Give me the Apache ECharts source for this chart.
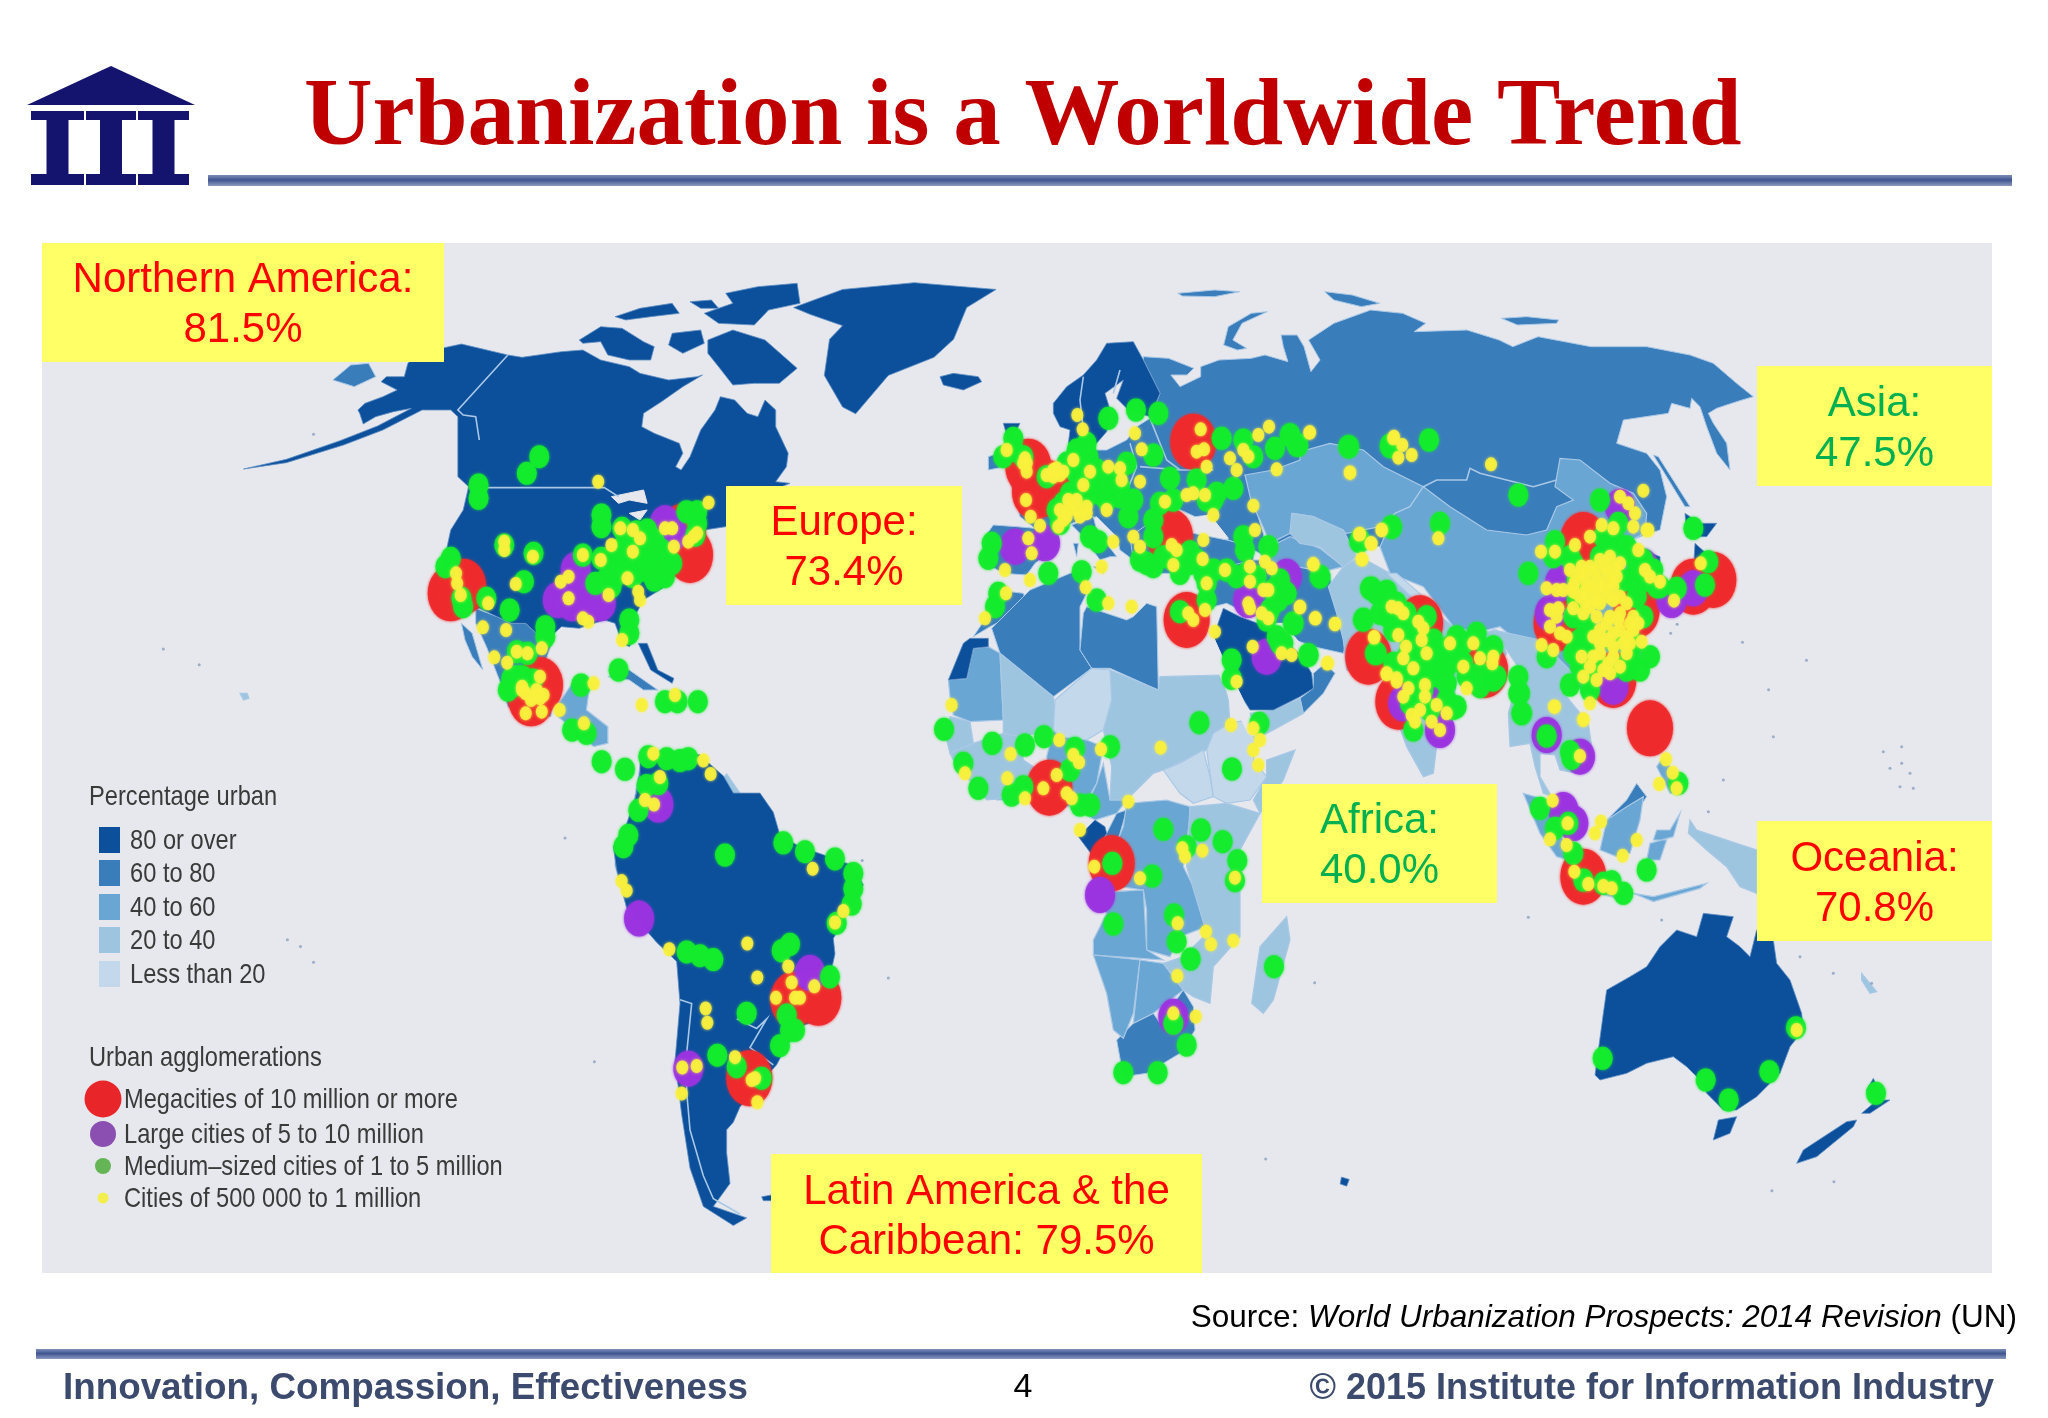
<!DOCTYPE html>
<html><head><meta charset="utf-8"><style>html,body{margin:0;background:#fff}#c{width:2048px;height:1418px}</style>
<script src="https://cdn.jsdelivr.net/npm/echarts@6/dist/echarts.min.js"></script></head>
<body><div id="c"></div>
<script>
// Map readings are kept per reference view: [originX, originY, scaleX, scaleY]
const V1=[0,0,1.531,2.211],V2=[1024,0,1.531,2.211],V3=[0,709,1.531,2.211],V4=[1024,709,1.531,2.211],
NA=[240,270,2.8,3],SA=[500,640,3,2.613],EU=[920,360,3,3],AF=[920,600,3,3],AS=[1280,280,3,3],OC=[1440,680,3,3],RU=[1040,260,2.178,3];
const at=(v,a)=>a.map(p=>[v[0]+p[0]/v[2],v[1]+p[1]/v[3]]);

const regionNames=['Northern America:','Europe:','Asia:','Africa:','Oceania:','Latin America & the'];
const urbanPct=[81.5,73.4,47.5,40.0,70.8,79.5];
const urbanLegend=['80 or over','60 to 80','40 to 60','20 to 40','Less than 20'];
const cityLegend=['Megacities of 10 million or more','Large cities of 5 to 10 million','Medium\u2013sized cities of 1 to 5 million','Cities of 500 000 to 1 million'];

const land80=[
 at(NA,[[330,420],[350,400],[400,380],[440,360],[395,335],[410,320],[460,320],[470,280],[500,250],[620,222],[750,255],[790,262],[900,245],[960,240],[1010,270],[1090,290],[1120,310],[1200,330],[1280,320],[1295,315],[1240,350],[1180,395],[1130,430],[1125,470],[1160,490],[1230,520],[1240,550],[1220,590],[1235,600],[1260,560],[1290,480],[1330,420],[1345,380],[1385,390],[1420,430],[1450,440],[1470,390],[1500,420],[1500,470],[1535,550],[1530,590],[1500,635],[1540,640],[1400,700],[1360,770],[1300,780],[1305,850],[1290,890],[1215,920],[1190,950],[1130,990],[1110,1030],[1100,1040],[1110,1100],[1090,1130],[1070,1120],[1050,1060],[1020,1050],[950,1075],[900,1070],[880,1090],[870,1130],[830,1090],[800,1060],[760,1060],[720,1040],[670,1015],[610,1040],[590,990],[570,880],[590,780],[625,720],[640,650],[610,620],[610,560],[610,440],[590,420],[540,420],[510,420],[400,480],[290,525],[130,578],[10,597],[130,568],[280,512],[385,468],[480,415],[430,425],[380,440],[345,462],[335,430]]),
 at(NA,[[950,210],[1010,170],[1070,175],[1130,215],[1160,230],[1150,270],[1090,270],[1030,255],[1010,215],[960,220]]),
 at(NA,[[1050,140],[1120,115],[1210,100],[1230,130],[1150,140],[1080,150]]),
 at(NA,[[1260,95],[1320,90],[1340,115],[1290,115]]),
 at(NA,[[1210,190],[1290,180],[1300,220],[1240,250],[1200,225]]),
 at(NA,[[1360,70],[1450,50],[1560,40],[1568,100],[1480,120],[1440,165],[1340,160],[1300,130],[1380,100]]),
 at(NA,[[1310,210],[1380,180],[1470,210],[1560,295],[1510,340],[1440,340],[1380,345],[1340,290],[1310,250]]),
 at(V1,[[1215,680],[1290,640],[1400,625],[1525,640],[1480,680],[1460,750],[1430,790],[1360,830],[1310,915],[1290,900],[1262,830],[1270,750],[1290,720],[1240,695]]),
 at(NA,[[1115,1120],[1140,1120],[1170,1200],[1215,1225],[1210,1240],[1150,1200]]),
 at(SA,[[420,320],[480,290],[600,300],[650,340],[670,355],[700,400],[780,400],[820,450],[840,510],[900,540],[1000,570],[1060,590],[1090,640],[1040,720],[1000,780],[1005,820],[990,880],[1010,930],[1000,980],[900,1010],[860,1060],[830,1110],[800,1140],[720,1220],[700,1260],[680,1280],[680,1340],[690,1420],[640,1480],[740,1510],[700,1530],[610,1480],[570,1380],[545,1240],[525,1100],[540,950],[530,840],[470,790],[380,700],[350,600],[340,540],[380,480],[400,430],[420,370]]),
 at(SA,[[785,1455],[815,1450],[815,1465],[790,1465]]),
 at(EU,[[60,50],[100,40],[175,50],[185,65],[130,90],[70,75]]),
 at(EU,[[250,190],[300,190],[280,230],[330,300],[330,320],[270,340],[260,300],[270,260]]),
 at(EU,[[400,130],[440,80],[490,45],[530,0],[560,-50],[640,-55],[670,0],[720,100],[690,170],[625,150],[590,115],[610,60],[555,100],[575,165],[560,215],[530,250],[470,260],[445,250],[450,210],[420,200],[400,160]]),
 at(EU,[[880,830],[910,745],[960,770],[1040,800],[1090,840],[1140,880],[1175,940],[1180,985],[1140,1010],[1060,1050],[990,1050],[965,1010],[920,920]]),
 at(AF,[[85,240],[130,130],[150,115],[205,115],[205,140],[160,145],[140,235]]),
 at(AF,[[475,710],[525,660],[555,680],[560,700],[520,770]]),
 at(AS,[[1215,700],[1260,730],[1310,730],[1280,770],[1220,770]]),
 at(AS,[[1245,790],[1290,830],[1260,900],[1180,970],[1150,960],[1240,870]]),
 at(AS,[[1090,810],[1140,830],[1140,920],[1100,930]]),
 at(OC,[[465,1185],[490,1000],[500,930],[570,890],[620,860],[660,800],[710,750],[770,770],[790,700],[880,710],[860,770],[900,800],[930,830],[950,750],[1000,780],[1010,850],[1050,900],[1085,1000],[1090,1050],[1050,1100],[1020,1180],[950,1250],[890,1290],[850,1290],[800,1240],[780,1200],[740,1160],[700,1130],[620,1150],[560,1180],[480,1200]]),
 at(OC,[[820,1380],[835,1320],[890,1310],[870,1360]]),
 at(OC,[[1300,1195],[1330,1260],[1350,1260],[1290,1300],[1265,1300],[1300,1270],[1280,1230]]),
 at(OC,[[1070,1450],[1090,1410],[1220,1325],[1250,1320],[1240,1340],[1130,1430]]),
 at(V4,[[486,1035],[498,1040],[494,1055],[484,1050]])
];
const land60=[
 at(EU,[[270,370],[340,350],[420,300],[455,280],[465,235],[490,235],[500,270],[560,270],[620,240],[650,200],[690,175],[720,100],[670,0]])
 .concat(at(RU,[[225,290],[280,295],[335,325],[320,345],[285,345],[305,380],[350,350],[350,320],[390,300],[460,295],[490,285],[540,305],[530,260],[525,225],[560,225],[575,260],[590,335],[610,300],[585,240],[640,190],[720,150],[790,160],[840,190],[815,215],[930,210],[1000,240],[1030,260],[1085,230],[1200,260]]))
 .concat(at(AS,[[1100,200],[1230,225],[1300,250],[1370,310],[1420,350],[1370,365],[1310,385],[1285,400],[1300,430],[1340,490],[1350,570],[1310,520],[1280,440],[1260,380],[1235,355],[1230,385],[1175,370],[1165,400],[1030,420],[1010,490],[1100,520],[1140,570],[1160,650],[1140,750],[1095,765],[1000,800],[600,800],[300,800],[0,800]]))
 .concat(at(EU,[[975,345],[1030,520],[1040,590],[1000,570],[925,540],[870,465],[825,470],[760,440],[720,470],[700,480],[650,540],[640,600],[600,570],[590,530],[530,470],[480,480],[410,510],[345,505],[300,470],[280,390]])),
 at(AS,[[1120,525],[1135,530],[1230,680],[1215,680]]),
 at(RU,[[400,255],[410,200],[460,160],[495,155],[440,190],[420,240],[450,265],[430,270]]),
 at(RU,[[620,95],[680,105],[740,130],[700,140],[640,120]]),
 at(RU,[[300,100],[380,90],[435,95],[380,110],[310,108]]),
 at(RU,[[1005,175],[1060,170],[1130,180],[1125,190],[1040,195]]),
 at(EU,[[190,610],[195,530],[220,495],[290,500],[345,505],[415,530],[400,570],[345,610],[320,645],[250,640],[215,620]]),
 at(EU,[[205,290],[260,270],[255,320],[205,330]]),
 at(EU,[[455,495],[520,470],[530,510],[590,590],[570,590],[540,600],[490,530]]),
 at(EU,[[520,620],[560,620],[550,640]]),
 at(EU,[[460,550],[475,550],[470,590]]),
 at(EU,[[630,530],[700,480],[820,520],[920,540],[1000,560],[1000,620],[880,650],[840,640],[680,640],[640,600]]),
 at(EU,[[840,640],[1000,600],[1080,600],[1180,620],[1230,640],[1240,720],[1280,840],[1270,880],[1180,860],[1100,830],[1040,780],[960,750],[920,730],[880,740],[850,720]]),
 at(EU,[[1180,940],[1215,910],[1245,940],[1210,1000],[1150,1060],[1140,1015],[1180,985]]),
 at(AF,[[200,50],[230,-30],[310,-20],[325,20],[210,80],[160,110]]),
 at(AF,[[215,85],[330,-30],[450,-80],[490,-90],[500,-20],[480,20],[480,150],[515,205],[400,290],[240,160]]),
 at(AF,[[490,40],[500,20],[620,60],[640,50],[680,10],[710,20],[715,270],[570,205],[515,205],[480,150]]),
 at(AF,[[560,700],[590,640],[620,630],[600,700],[580,760],[540,745]]),
 at(AF,[[590,1320],[640,1270],[700,1240],[720,1270],[790,1170],[820,1220],[825,1290],[780,1360],[680,1420],[610,1430]]),
 at(NA,[[660,1015],[720,1040],[760,1060],[800,1060],[830,1090],[870,1130],[850,1190],[880,1280],[870,1340],[810,1350],[750,1310],[730,1240],[690,1130],[660,1060]]),
 at(NA,[[620,1060],[650,1090],[680,1200],[650,1160],[630,1110]]),
 at(NA,[[1030,1220],[1090,1200],[1170,1260],[1130,1260],[1090,1230]]),
 at(NA,[[260,330],[310,285],[360,280],[380,320],[320,350]]),
 at(SA,[[345,590],[345,540],[430,500],[510,560],[470,620],[470,650],[500,680],[545,700],[545,780],[530,840],[470,790],[380,700]]),
 at(SA,[[420,330],[480,290],[520,340],[510,390],[560,390],[550,450],[515,480],[510,560],[430,500],[380,480],[400,430]]),
 at(SA,[[545,700],[600,685],[680,800],[720,830],[720,860],[660,880],[640,920],[580,900],[545,830]]),
 at(SA,[[715,420],[770,405],[760,460],[720,460]]),
 at(OC,[[500,420],[560,360],[590,310],[620,350],[600,380],[550,400],[510,430]])
];
const land40=[
 at(AS,[[-105,585],[-20,570],[60,540],[60,515],[150,490],[250,510],[310,560],[430,620],[390,680],[345,700],[300,740],[200,760],[100,710],[40,700],[30,760],[-30,790],[-60,720],[-85,670]]),
 at(AS,[[-30,800],[30,770],[120,805],[190,860],[130,875],[50,860],[0,860],[-40,850]]),
 at(AS,[[430,620],[510,680],[620,750],[740,765],[800,750],[830,680],[880,660],[825,620],[840,535],[900,540],[990,610],[1060,640],[1100,700],[1095,760],[1010,800],[1050,860],[1060,960],[1100,1050],[1080,1150],[1030,1200],[960,1240],[880,1220],[780,1130],[720,1090],[660,1040],[580,1060],[520,1040],[430,920],[330,880],[300,800],[345,700],[390,680]]),
 at(AF,[[85,240],[140,235],[160,145],[205,140],[240,160],[250,360],[150,365],[100,345],[90,290]]),
 at(AF,[[620,610],[740,600],[810,620],[810,650],[790,800],[850,920],[860,980],[780,1010],[750,1070],[680,1050],[680,930],[670,870],[600,860],[565,790],[610,680]]),
 at(AF,[[550,490],[570,600],[620,600],[590,640],[525,660],[490,640],[530,550]]),
 at(AF,[[500,880],[670,870],[680,1050],[730,1080],[660,1075],[520,1065],[520,1020],[560,940]]),
 at(AF,[[520,1065],[660,1080],[640,1240],[610,1315],[580,1290],[560,1180]]),
 at(AF,[[660,1080],[730,1090],[790,1170],[700,1240],[640,1270]]),
 at(AF,[[400,390],[500,420],[550,440],[530,550],[490,620],[440,620],[400,630],[390,580],[380,470]]),
 at(AF,[[220,490],[300,480],[340,600],[230,600]]),
 at(NA,[[880,1320],[930,1240],[980,1240],[970,1320],[1030,1370],[1030,1420],[990,1430],[960,1400],[890,1340]]),
 at(SA,[[655,880],[720,860],[770,950],[790,985],[770,1015],[710,990]]),
 at(OC,[[250,340],[320,360],[360,460],[400,545],[350,530],[300,460]]),
 at(OC,[[370,590],[480,640],[570,640],[550,660],[400,620]]),
 at(OC,[[480,510],[500,420],[560,380],[610,350],[600,420],[570,520],[530,530]]),
 at(OC,[[620,540],[630,490],[700,470],[720,400],[690,450],[650,450],[640,480],[680,480],[660,540]]),
 at(OC,[[670,230],[710,290],[730,340],[690,340],[650,260]]),
 at(OC,[[580,640],[640,650],[800,610],[780,625],[640,665]])
];
const land20=[
 at(AS,[[35,700],[100,710],[190,750],[230,830],[190,860],[120,800],[60,790],[30,760]]),
 at(AS,[[145,920],[190,860],[240,830],[330,880],[420,960],[520,1040],[600,1060],[650,1050],[680,1120],[640,1180],[530,1190],[520,1280],[470,1400],[460,1480],[430,1490],[380,1400],[340,1290],[310,1200],[200,1170],[190,1080],[170,1000]]),
 at(OC,[[205,100],[240,-30],[160,-150],[300,-120],[400,-20],[380,50],[445,130],[455,200],[410,280],[360,270],[345,225],[300,220],[300,290],[335,350],[310,340],[285,260],[270,190],[210,200]]),
 at(OC,[[750,420],[770,450],[860,480],[950,510],[950,640],[900,620],[860,560],[800,510],[745,460]]),
 at(OC,[[1265,880],[1310,935],[1290,940],[1265,900]]),
 at(EU,[[990,1060],[1060,1050],[1140,1015],[1150,1060],[1060,1110],[1000,1140]]),
 at(AF,[[240,160],[400,290],[405,320],[400,390],[300,410],[250,400],[250,360]]),
 at(AF,[[570,210],[715,270],[720,230],[905,225],[925,300],[930,370],[880,400],[860,450],[730,510],[700,520],[620,600],[570,600],[575,500],[550,390],[575,300]]),
 at(AF,[[1040,480],[1125,450],[1090,540],[1020,640],[1000,600],[1040,530]]),
 at(AF,[[810,620],[920,610],[1020,640],[960,750],[960,1010],[880,1100],[870,1210],[820,1190],[790,1170],[730,1090],[790,1070],[860,1000],[800,800]]),
 at(AF,[[995,1210],[1020,1040],[1100,950],[1110,1020],[1060,1200],[1030,1240]]),
 at(AF,[[90,350],[150,365],[160,430],[90,460],[80,420]]),
 at(AF,[[90,460],[160,430],[250,400],[300,410],[310,480],[340,500],[330,590],[200,600],[130,520],[100,480]]),
 at(SA,[[660,370],[680,350],[720,400],[710,440],[720,460],[690,480],[670,450]]),
 at(NA,[[0,1270],[20,1270],[25,1285],[10,1290]])
];
const land0=[
 at(AF,[[405,300],[515,205],[570,210],[575,300],[550,390],[500,420],[420,410],[400,390]]),
 at(AF,[[730,510],[780,490],[850,450],[870,530],[880,590],[820,610],[780,580]]),
 at(AF,[[880,400],[930,370],[980,360],[1010,430],[1000,480],[1040,530],[990,600],[920,610],[880,590],[870,520],[860,450]]),
 at(AS,[[320,880],[350,880],[430,950],[410,965]])
];
const seas=[
 at(EU,[[820,475],[870,465],[925,535],[860,510]]),
 at(EU,[[1060,790],[1090,790],[1140,850],[1220,890],[1240,930],[1215,905],[1180,930],[1130,870]]),
 at(EU,[[860,830],[880,830],[920,920],[965,1010],[990,1070],[1010,1130],[985,1120],[950,1050],[905,960]]),
 at(NA,[[1040,680],[1130,660],[1140,700],[1090,690],[1060,700]]),
 at(NA,[[1090,730],[1140,720],[1120,750]])
];
const borders=[
 at(NA,[[750,255],[610,420],[625,435],[660,440],[670,510]]),
 at(NA,[[690,653],[1020,653],[1060,680]]),
 at(AS,[[430,620],[470,600],[560,600],[570,565],[600,580],[680,600],[760,620],[830,600]]),
 at(SA,[[540,940],[575,950],[560,1080],[560,1180],[570,1280],[610,1400],[640,1460],[720,1500]]),
 at(SA,[[710,990],[770,1015],[800,990],[750,1065],[820,1110]]),
 at(EU,[[490,50],[480,120],[490,210]]),at(EU,[[600,30],[580,100]]),
 at(EU,[[630,250],[650,320],[610,420]]),at(EU,[[660,320],[780,330],[880,330]]),at(EU,[[690,175],[740,300],[780,330]])
];

const megaCities=[...at(NA,[[590,970],[625,950],[1260,855],[1240,785],[815,1285],[840,1245]]),
 ...at(SA,[[748,1145],[955,935],[880,940]]),
 ...at(EU,[[325,320],[345,395],[385,385],[820,245],[750,530],[800,780]]),
 ...at(AF,[[388,563],[575,790]]),
 ...at(AS,[[265,1130],[420,1030],[355,1265],[615,1170],[910,780],[1070,990],[1000,1200],[830,1030],[1240,920],[1300,900]]),
 ...at(OC,[[630,145],[430,590]])];
const largeCities=[...at(NA,[[1190,760],[890,990],[940,900],[960,960],[985,1000],[1010,1000],[930,1000],[1210,790]]),
 ...at(SA,[[417,728],[565,1120],[475,430],[930,870]]),
 ...at(EU,[[285,560],[375,550],[1100,650],[985,720],[1040,890]]),
 ...at(AF,[[540,885],[760,1250]]),
 ...at(AS,[[840,910],[810,1000],[1090,860],[1175,960],[1000,1220],[1020,680],[1240,925],[480,1350],[370,1270],[460,1270]]),
 ...at(OC,[[320,165],[420,230],[370,390],[400,430]])];
const mediumCities=[...at(NA,[[838,560],[803,610],[668,645],[668,685],[590,865],[575,890],[1012,735],[1012,770],[740,825],[822,850],[795,935],[960,855],[1012,865],[690,985],[755,1020],[620,985],[625,1010],[1250,725],[1280,725],[1275,795],[1070,775],[1110,785],[1130,800],[1100,845],[1160,810],[1090,880],[1050,920],[1170,900],[1190,880],[1160,930],[995,940],[1090,1050],[1090,1090],[855,1070],[855,1100],[775,1145],[805,1150],[775,1220],[760,1250],[800,1230],[955,1245],[1060,1200],[1190,1295],[1225,1295],[1282,1295],[930,1380],[970,1390],[1060,840],[1140,780],[1180,840],[1130,860],[1060,890],[1100,920],[1130,900],[1030,920],[1190,920],[1210,880],[1150,870],[1080,820],[1040,950],[1280,760],[790,1220],[760,1225],[750,1260],[820,1230]]),
 ...at(SA,[[445,305],[500,310],[540,315],[565,310],[440,380],[475,375],[415,445],[385,510],[370,540],[305,318],[375,338],[675,562],[850,530],[915,553],[1005,572],[1060,610],[1060,650],[1055,690],[1010,740],[870,795],[845,812],[990,880],[560,815],[600,825],[640,835],[740,975],[860,980],[870,1020],[885,1020],[840,1060],[652,1085],[710,1115],[785,1145]]),
 ...at(EU,[[648,150],[565,175],[715,160],[280,235],[250,290],[310,290],[460,300],[505,290],[470,340],[560,350],[620,310],[500,250],[700,285],[750,355],[830,360],[940,385],[905,235],[970,240],[1065,265],[1110,225],[1130,255],[1000,290],[1285,260],[1410,255],[880,420],[410,450],[420,490],[470,400],[520,390],[570,400],[600,410],[625,470],[700,480],[510,530],[535,545],[215,550],[205,595],[385,640],[485,635],[235,700],[225,740],[530,720],[680,610],[730,590],[810,575],[810,610],[780,640],[970,530],[975,570],[1045,560],[980,640],[860,670],[860,720],[920,630],[1080,660],[1075,720],[1050,750],[1120,790],[1090,850],[1165,885],[1200,650],[935,900],[935,955],[780,755],[1320,540],[1415,500],[1355,685],[1400,695],[1330,780],[1365,880],[1405,770],[440,310],[490,320],[530,330],[590,350],[540,400],[500,410],[450,400],[600,380],[640,420],[430,430],[560,420],[510,370],[380,350],[280,270],[470,270],[720,430],[760,420],[860,420],[890,400],[700,530],[660,600],[700,620],[760,600],[800,610],[830,600],[850,640],[880,630],[950,650],[1010,650],[1060,690],[1100,700],[1040,780],[1070,830]]),
 ...at(AF,[[72,388],[217,430],[315,435],[372,410],[130,490],[175,565],[275,585],[310,560],[465,445],[450,510],[570,440],[510,615],[480,615],[838,368],[936,507],[1018,370],[730,688],[843,690],[800,740],[908,725],[952,782],[945,842],[697,828],[577,790],[580,972],[762,945],[770,1025],[812,1077],[1062,1100],[760,1270],[800,1335],[610,1418],[713,1418]]),
 ...at(AS,[[30,465],[55,495],[207,500],[330,500],[447,480],[715,645],[960,660],[335,742],[238,785],[480,730],[120,890],[40,1030],[250,1018],[85,1125],[0,1090],[745,880],[825,785],[870,830],[1015,730],[985,820],[290,1120],[270,925],[320,935],[330,1000],[400,1050],[460,1080],[530,1070],[510,1130],[480,1190],[430,1170],[380,1130],[340,1050],[450,1140],[400,1200],[500,1210],[530,1280],[715,1190],[715,1240],[725,1300],[640,1100],[650,1190],[600,1180],[870,1215],[930,1230],[1080,1170],[1110,1130],[1190,925],[1285,845],[1275,915],[1240,745],[1130,920],[1070,860],[900,1010],[910,1120],[800,1130],[1000,1160],[1050,1130],[960,830],[820,830],[1040,800],[350,1030],[390,1090],[420,1110],[470,1110],[500,1160],[340,1150],[360,1170],[410,1130],[450,1190],[480,1150],[430,1230],[390,1270],[420,1270],[450,1290],[400,1350],[500,1260],[290,940],[350,970],[300,1000],[380,1000],[440,1010],[510,1100],[550,1090],[590,1060],[880,850],[890,900],[890,960],[880,1010],[920,1050],[900,1080],[930,1100],[880,1120],[900,1160],[950,1150],[1010,790],[1050,820],[970,770],[1030,900],[1060,900],[1070,950],[1090,1010],[1060,1090],[1000,1080],[1040,1170],[930,1190],[1100,900],[1140,920],[1120,870],[1090,840],[600,1220],[640,1200],[560,1190],[550,1150],[620,1110]]),
 ...at(OC,[[245,100],[240,40],[320,168],[390,215],[395,235],[300,385],[345,445],[385,430],[400,520],[430,600],[515,605],[490,610],[550,640],[620,570],[715,310],[1068,1043],[988,1175],[797,1200],[866,1260],[488,1135],[1308,1240],[40,85]])];
const smallCities=[...at(NA,[[1003,635],[1312,698],[1190,775],[1210,775],[1040,825],[1065,775],[1100,780],[1120,805],[1100,845],[1215,830],[1270,800],[1280,790],[1255,815],[740,815],[740,840],[820,860],[960,855],[920,920],[898,935],[920,985],[1032,975],[1085,925],[1010,870],[772,942],[605,910],[608,940],[618,975],[695,1000],[680,1072],[745,1080],[1115,965],[1120,990],[960,1045],[975,1055],[1070,1110],[845,1135],[775,1145],[805,1150],[712,1162],[748,1178],[840,1220],[790,1260],[820,1280],[850,1275],[800,1330],[845,1325],[895,1320],[990,1240],[963,1360],[1125,1305],[1218,1275],[800,1270],[830,1260],[815,1290],[840,1285],[790,1250],[835,1270]]),
 ...at(SA,[[460,297],[480,358],[435,418],[462,430],[610,315],[632,350],[365,630],[380,655],[508,808],[742,793],[938,598],[1030,708],[1005,738],[865,853],[772,882],[875,895],[828,935],[885,935],[900,935],[943,905],[617,963],[622,1000],[547,1117],[590,1113],[705,1090],[545,1185],[755,1150],[772,1208],[765,1145]]),
 ...at(EU,[[472,165],[488,208],[645,220],[665,268],[260,270],[315,295],[320,335],[400,330],[430,335],[460,300],[510,335],[565,320],[600,325],[605,360],[660,365],[490,375],[445,420],[420,450],[470,450],[500,460],[415,500],[560,450],[735,425],[800,405],[820,400],[855,405],[880,465],[1000,437],[842,208],[830,275],[852,268],[860,320],[930,295],[950,330],[970,270],[985,290],[1015,225],[1047,200],[1168,218],[1070,328],[1290,338],[1420,235],[1005,510],[325,535],[335,580],[360,497],[332,470],[255,630],[330,660],[258,700],[195,775],[497,682],[565,730],[635,740],[580,545],[545,620],[640,530],[660,560],[755,555],[770,570],[760,615],[850,540],[848,597],[915,630],[990,620],[1035,605],[1055,625],[990,665],[1045,690],[1030,690],[985,730],[990,745],[1025,760],[1045,775],[1140,742],[1185,775],[1245,792],[1180,613],[885,815],[998,860],[1085,880],[1115,885],[950,965],[1222,910],[805,760],[820,780],[855,750],[860,670],[1320,522],[1385,510],[1355,550],[1325,598],[1362,832],[1400,940],[1430,965],[1415,740],[318,420],[380,345],[400,350],[410,325],[420,345],[310,310],[320,310],[440,470],[480,470],[500,440],[470,420],[450,445],[430,480]]),
 ...at(AF,[[95,315],[418,420],[272,462],[460,465],[477,487],[135,520],[262,535],[410,525],[370,565],[440,580],[455,595],[315,595],[543,448],[722,443],[933,375],[1000,385],[1020,420],[1000,450],[1015,495],[625,605],[480,690],[523,800],[660,835],[787,745],[795,770],[847,752],[945,833],[773,970],[858,995],[873,1033],[940,1022],[772,1128],[760,1240],[827,1250]]),
 ...at(AS,[[90,457],[342,470],[367,495],[395,525],[355,533],[210,578],[633,553],[237,763],[305,750],[272,790],[247,838],[475,775],[100,853],[60,980],[107,1015],[165,1032],[143,1150],[283,1072],[1090,632],[1020,650],[1045,670],[1065,700],[1060,740],[1100,750],[965,735],[1000,745],[885,795],[930,770],[783,815],[825,815],[900,880],[930,860],[960,840],[990,830],[1020,850],[880,920],[920,910],[950,900],[980,880],[1010,890],[900,950],[940,940],[970,930],[1000,920],[930,980],[960,970],[1000,960],[1040,970],[1060,1010],[1020,1000],[950,1010],[980,1030],[1020,1050],[1060,1050],[1075,1030],[940,1070],[980,1080],[1030,1090],[960,1120],[1000,1130],[1040,1120],[930,1160],[970,1170],[1020,1160],[910,1190],[950,1200],[990,1180],[860,1070],[820,1110],[785,1095],[810,990],[830,1010],[810,1040],[840,1060],[800,925],[830,930],[850,930],[835,985],[1095,870],[1110,890],[1140,905],[1075,810],[1105,750],[1182,962],[1262,850],[580,1090],[600,1135],[640,1130],[637,1150],[560,1225],[550,1160],[355,985],[370,1000],[415,1025],[430,1045],[355,1065],[425,1080],[378,1100],[440,1120],[370,1135],[320,1183],[350,1195],[400,1165],[510,1090],[435,1215],[385,1225],[370,1250],[435,1250],[470,1275],[420,1290],[395,1305],[405,1325],[455,1325],[500,1300],[480,1350],[825,1280],[910,1320],[930,1270],[870,870],[905,860],[945,875],[975,860],[1005,865],[915,885],[885,905],[935,925],[965,915],[995,905],[880,935],[915,935],[950,960],[985,950],[1020,950],[915,965],[880,985],[910,1000],[1015,1020],[1050,1030],[990,1010],[960,1050],[1000,1060],[1040,1070],[1085,1085],[1000,1100],[960,1090],[985,1150],[1050,1090],[940,1130],[905,1130]]),
 ...at(OC,[[342,80],[430,118],[420,228],[678,238],[698,278],[658,312],[710,325],[338,362],[383,430],[330,478],[380,495],[483,425],[465,460],[590,480],[548,527],[403,575],[445,612],[490,618],[515,625],[1070,1050]])];
const islandSpecks=[...at(OC,[[1330,215],[1350,265],[1385,250],[1410,280],[1380,320],[1420,325],[850,300],[805,395],[265,712],[665,720],[1080,830],[1180,880],[1295,910],[1000,170],[1385,200]]),
 ...at(V3,[[865,285],[460,525],[440,510],[480,560],[1320,335],[1360,595],[910,780]]),
 ...at(V2,[[1100,1420],[1198,1460],[1140,1525],[990,1400],[1000,1380]]),
 ...at(V4,[[445,605],[370,995],[1145,1065],[1240,1045]]),
 ...at(V1,[[250,1435],[305,1470],[480,960]])];

const LIGHT='#a8c8e6';
const C={c80:'#0c4f9b',c60:'#3a7dbb',c40:'#6aa6d3',c20:'#9ec5df',c0:'#c4d8ec',bg:'#e7e8ed'};
const polySeries=(name,polys,fill,z,stroke,lw)=>({type:'custom',name,coordinateSystem:'cartesian2d',z,silent:true,animation:false,clip:false,
 itemStyle:{color:fill},encode:{x:0,y:1},data:polys.map((_,i)=>[i,i]),
 renderItem:(p,api)=>({type:'polygon',shape:{points:polys[api.value(0)].map(q=>api.coord(q))},style:{fill,stroke,lineWidth:lw}})});
const lineSeries=(name,lines,z)=>({type:'custom',name,coordinateSystem:'cartesian2d',z,silent:true,animation:false,clip:false,encode:{x:0,y:1},
 data:lines.map((_,i)=>[i,i]),
 renderItem:(p,api)=>({type:'polyline',shape:{points:lines[api.value(0)].map(q=>api.coord(q))},style:{fill:'none',stroke:LIGHT,lineWidth:1.6}})});
const dots=(name,data,color,opacity,size,z)=>({type:'scatter',name,data,symbol:'circle',symbolSize:size,z,silent:true,animation:false,clip:false,itemStyle:{color,opacity,shadowBlur:size===3?0:3,shadowColor:color}});

const LF='"Liberation Sans",sans-serif';
const INK='#3a3a3a';
const swatchY=[840,873,907,940,974],dotY=[1099,1134,1166,1198],dotSize=[[37,45],[26,27],[16,17],[11,14]];
const dotColors=['#e8262a','#8a4fb0','#65b556','#f2ee4e'];
const swatchColors=[C.c80,C.c60,C.c40,C.c20,C.c0];
const noText=()=>'';
const legends=[
 ...urbanLegend.map((n,i)=>({data:[n],left:99,top:swatchY[i]-13,padding:0,itemGap:0,itemWidth:21,itemHeight:26,icon:'rect',selectedMode:false,formatter:noText,itemStyle:{color:swatchColors[i]}})),
 ...cityLegend.map((n,i)=>({data:[n],left:103-dotSize[i][0]/2,top:dotY[i]-dotSize[i][1]/2,padding:0,itemGap:0,itemWidth:dotSize[i][0],itemHeight:dotSize[i][1],icon:'circle',selectedMode:false,formatter:noText,itemStyle:{color:dotColors[i],opacity:1,shadowBlur:0}}))
];
const narrow=(text,x,y)=>({type:'text',z:5,x,y,scaleX:.845,style:{text,font:'28px '+LF,fill:INK,verticalAlign:'middle'}});

const boxes=[[42,243,402,119,'#ff0000',0],[726,486,236,119,'#ff0000',1],[1757,366,235,120,'#00b050',2],[1262,784,235,119,'#00b050',3],[1757,821,235,120,'#ff0000',4]];
const boxEls=[];
boxes.forEach(b=>{boxEls.push({type:'rect',z:50,shape:{x:b[0],y:b[1],width:b[2],height:b[3]},style:{fill:'#ffff66'}});
 boxEls.push({type:'text',z:51,x:b[0]+b[2]/2,y:b[1]+b[3]/2+3,style:{text:regionNames[b[5]]+'\n'+urbanPct[b[5]].toFixed(1)+'%',fill:b[4],font:'42px "Liberation Sans"',lineHeight:50,align:'center',verticalAlign:'middle'}});});
boxEls.push({type:'rect',z:50,shape:{x:771,y:1154,width:431,height:119},style:{fill:'#ffff66'}});
boxEls.push({type:'text',z:51,x:986.5,y:1217,style:{text:regionNames[5]+'\nCaribbean: '+urbanPct[5].toFixed(1)+'%',fill:'#ff0000',font:'42px "Liberation Sans"',lineHeight:50,align:'center',verticalAlign:'middle'}});

const NAVY='#14146e';
const logo=[{type:'polygon',z:5,shape:{points:[[111,66],[195,105],[27,105]]},style:{fill:NAVY}}];
[[31,84],[86,136],[138,189]].forEach(c=>{
 const m=(c[0]+c[1])/2;
 logo.push({type:'rect',z:5,shape:{x:c[0],y:111,width:c[1]-c[0],height:9},style:{fill:NAVY}});
 logo.push({type:'rect',z:5,shape:{x:m-11,y:120,width:22,height:54},style:{fill:NAVY}});
 logo.push({type:'rect',z:5,shape:{x:c[0],y:174,width:c[1]-c[0],height:11},style:{fill:NAVY}});
});
const rule=(x,y,w,h)=>({type:'rect',z:5,shape:{x,y,width:w,height:h},style:{fill:new echarts.graphic.LinearGradient(0,0,0,1,[{offset:0,color:'#7f8fb8'},{offset:.45,color:'#3f5590'},{offset:1,color:'#8b99bf'}])}});

const chart=echarts.init(document.getElementById('c'),null,{renderer:'canvas'});
chart.setOption({
 animation:false,backgroundColor:'#fff',
 title:{text:'Urbanization is a Worldwide Trend',left:304,top:72,padding:0,textStyle:{fontFamily:'"Liberation Serif"',fontWeight:'bold',fontSize:95,color:'#c00000'}},
 grid:{left:0,right:0,top:0,bottom:0},
 xAxis:{type:'value',min:0,max:2048,show:false},yAxis:{type:'value',min:0,max:1418,inverse:true,show:false},
 legend:legends,
 series:[
  polySeries(urbanLegend[1],land60,C.c60,2,LIGHT,1),
  polySeries(urbanLegend[2],land40,C.c40,3,LIGHT,1.2),
  polySeries(urbanLegend[3],land20,C.c20,4,LIGHT,1.2),
  polySeries(urbanLegend[4],land0,C.c0,5,LIGHT,1.2),
  polySeries(urbanLegend[0],land80,C.c80,6,'#5f8fc4',.8),
  polySeries('Sea',seas,C.bg,7,C.bg,1),
  lineSeries('Borders',borders,8),
  dots('Islands',islandSpecks,'#5d7ea8',.55,3,9),
  dots(cityLegend[0],megaCities,'#ee2a2c',.97,[46,56],10),
  dots(cityLegend[1],largeCities,'#9a33e0',.92,[30,36],11),
  dots(cityLegend[2],mediumCities,'#14ec2c',.92,[20,23],12),
  dots(cityLegend[3],smallCities,'#f8f03c',.88,[12,14],13)
 ],
 graphic:[
  {type:'rect',z:0,shape:{x:42,y:243,width:1950,height:1030},style:{fill:C.bg}},
  ...boxEls,...logo,rule(208,175,1804,11),rule(36,1349,1970,10),
  narrow('Percentage urban',89,797),narrow('Urban agglomerations',89,1058),
  ...urbanLegend.map((n,i)=>narrow(n,130,swatchY[i]+1)),
  ...cityLegend.map((n,i)=>narrow(n,124,dotY[i]+1)),
  {type:'text',z:5,x:2017,y:1318,style:{text:'{n|Source: }{i|World Urbanization Prospects: 2014 Revision}{n| (UN)}',align:'right',verticalAlign:'middle',rich:{n:{font:'31.5px "Liberation Sans"',fill:'#000'},i:{font:'italic 31.5px "Liberation Sans"',fill:'#000'}}}},
  {type:'text',z:5,x:63,y:1389,style:{text:'Innovation, Compassion, Effectiveness',font:'bold 36.8px "Liberation Sans"',fill:'#3c4a6e',verticalAlign:'middle'}},
  {type:'text',z:5,x:1023,y:1388,style:{text:'4',font:'34px "Liberation Sans"',fill:'#000',align:'center',verticalAlign:'middle'}},
  {type:'text',z:5,x:1994,y:1389,style:{text:'\u00a9 2015 Institute for Information Industry',font:'bold 36px "Liberation Sans"',fill:'#3c4a6e',align:'right',verticalAlign:'middle'}}
 ]
});
</script></body></html>
